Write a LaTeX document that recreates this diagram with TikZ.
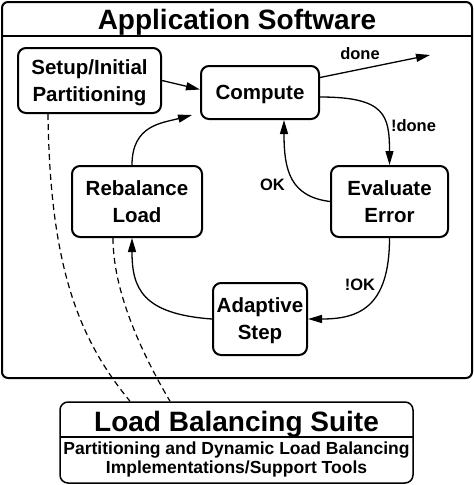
\documentclass[tikz,border=0pt]{standalone}
\usepackage{fontspec}
\setmainfont{Liberation Sans}
\usetikzlibrary{arrows.meta,calc}
\begin{document}
\begin{tikzpicture}[x=1pt,y=-1pt,
  box/.style={draw,line width=2pt,rounded corners=8pt,inner sep=0pt,align=center,text depth=0pt,
    font=\fontsize{20.5}{27}\selectfont\bfseries},
  conn/.style={line width=1.3pt,-{Triangle[length=14pt,width=8pt]}},
  lbl/.style={font=\fontsize{16.5}{18}\selectfont\bfseries},
  dashline/.style={line width=1.2pt,dash pattern=on 6pt off 4pt},
  bigtitle/.style={font=\fontsize{28}{30}\selectfont\bfseries,inner sep=0pt}]
\useasboundingbox (0,0) rectangle (474,485);
% outer frame
\draw[line width=2pt,rounded corners=6pt] (2,2) rectangle (472,378);
\draw[line width=2pt] (2,36) -- (472,36);
\node[bigtitle] (apptitle) at (237,22) {Application Software};
% nodes
\node[box,minimum width=143pt,minimum height=65pt] (setup) at (89.5,80.5) {Setup/Initial\\Partitioning};
\node[box,minimum width=118pt,minimum height=53pt] (compute) at (260,92.5) {Compute};
\node[box,minimum width=130pt,minimum height=71pt] (rebal) at (137,201.5) {Rebalance\\Load};
\node[box,minimum width=117pt,minimum height=71pt] (evalerr) at (389.5,201.5) {Evaluate\\Error};
\node[box,minimum width=94pt,minimum height=72pt] (adapt) at (260,319) {Adaptive\\Step};
% load balancing suite
\node[draw,line width=1.5pt,rounded corners=8pt,minimum width=353pt,minimum height=81pt,inner sep=0pt] (lbs) at (236.5,442.5) {};
\draw[line width=1.5pt] (60,437) -- (413,437);
\node[bigtitle] (lbstitle) at (236.5,424.7) {Load Balancing Suite};
\node[align=center,inner sep=0pt,font=\fontsize{17.5}{18.5}\selectfont\bfseries] (lbssub) at (236.5,459.5) {Partitioning and Dynamic Load Balancing\\Implementations/Support Tools};
% connectors
\coordinate (doneend) at (430,55);
\coordinate (rcend) at ([xshift=-8pt,yshift=5pt]compute.south west);
\draw[conn] (setup.east) -- ([yshift=3pt]compute.west);
\draw[conn] ([yshift=15pt]compute.east) -- (doneend);
\draw[conn] ([yshift=-4.5pt]compute.east) .. controls +(65,0) and +(0,-50) .. (evalerr.north);
\draw[conn] (evalerr.west) .. controls +(-40,-5) and +(0,50) .. ([xshift=24pt]compute.south);
\draw[conn] (evalerr.south) .. controls +(0,70) and +(50,0) .. (adapt.east);
\draw[conn] (adapt.west) .. controls +(-70,-5) and +(0,50) .. ([xshift=-5pt]rebal.south);
\draw[conn] ([xshift=-5pt]rebal.north) .. controls +(0,-40) and +(-30,8) .. (rcend);
% labels
\node[lbl] (donelbl) at (360,54) {done};
\node[lbl] (notdonelbl) at (413.5,126) {!done};
\node[lbl] (oklbl) at (272.5,185) {OK};
\node[lbl] (notoklbl) at (360,284.5) {!OK};
% dashed links
\draw[dashline] ([xshift=-41.5pt]setup.south) .. controls +(2,156) and +(-50,-61) .. ([xshift=-106.5pt]lbs.north);
\draw[dashline] ([xshift=-24pt]rebal.south) .. controls +(0,52) and +(-30,-51) .. ([xshift=-66.5pt]lbs.north);
\end{tikzpicture}
\end{document}
